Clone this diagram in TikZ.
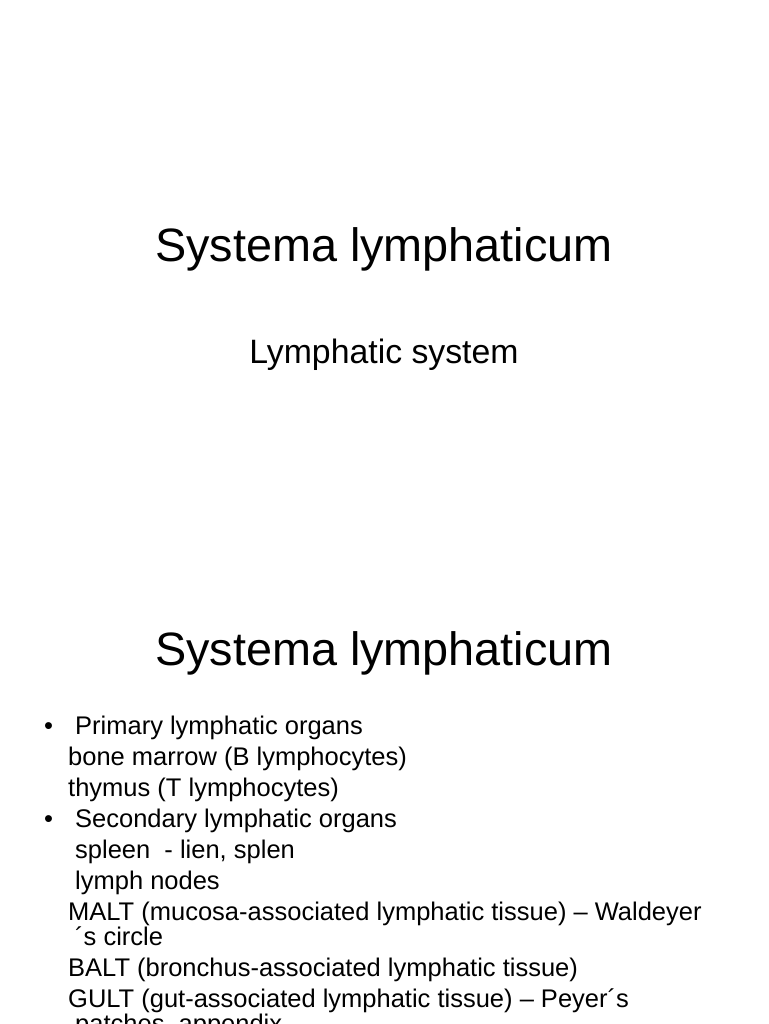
\documentclass[tikz,border=0pt]{standalone}
\usepackage{fontspec}
\setmainfont{Liberation Sans}
\begin{document}
\begin{tikzpicture}[x=1pt,y=-1pt,
  title/.style={anchor=base,inner sep=0pt,font=\fontsize{46.8}{50}\selectfont},
  sub/.style={anchor=base,inner sep=0pt,font=\fontsize{33.8}{36}\selectfont},
  body/.style={anchor=base west,inner sep=0pt,font=\fontsize{25.5}{30}\selectfont}]
\useasboundingbox (0,0) rectangle (768,1024);
\clip (0,0) rectangle (768,1024);
\node[title] (t1) at (384,261) {Systema lymphaticum};
\node[sub] (s1) at (384,363) {Lymphatic system};
\node[title] (t2) at (384,665) {Systema lymphaticum};
\node[body] (b1) at (44,734) {•};
\node[body] (l1) at (75,734) {Primary lymphatic organs};
\node[body] (l2) at (68,765) {bone marrow (B lymphocytes)};
\node[body] (l3) at (68,796) {thymus (T lymphocytes)};
\node[body] (b2) at (44,827) {•};
\node[body] (l4) at (75,827) {Secondary lymphatic organs};
\node[body] (l5) at (75,858) {spleen \ - lien, splen};
\node[body] (l6) at (75,889) {lymph nodes};
\node[body] (l7) at (68,920) {MALT (mucosa-associated lymphatic tissue) – Waldeyer};
\node[body] (l8) at (75,945) {´s circle};
\node[body] (l9) at (68,976) {BALT (bronchus-associated lymphatic tissue)};
\node[body] (l10) at (68,1007) {GULT (gut-associated lymphatic tissue) – Peyer´s};
\node[body] (l11) at (75,1032) {patches, appendix};
\end{tikzpicture}
\end{document}
